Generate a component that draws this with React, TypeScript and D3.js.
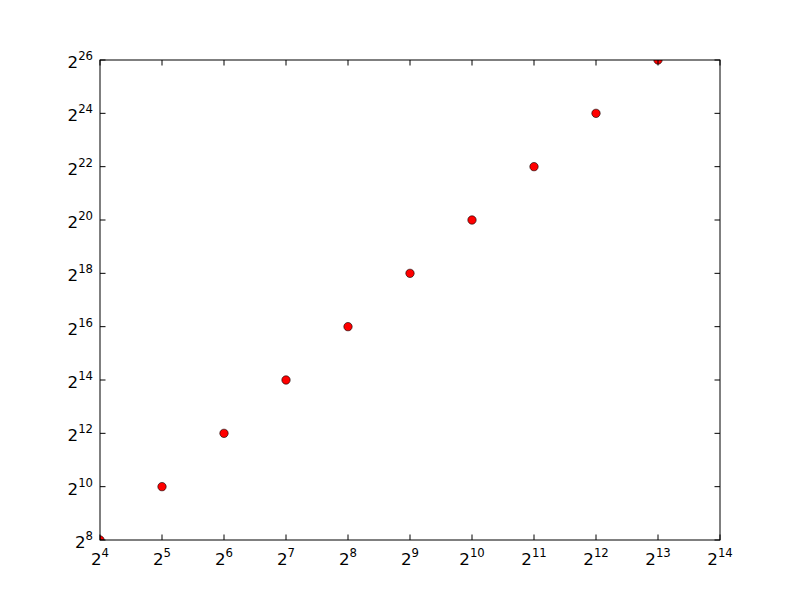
import React from 'react';
import * as d3 from 'd3';

// exponents of 2 for each point
const xExps = [4, 5, 6, 7, 8, 9, 10, 11, 12, 13];
const yExps = [8, 10, 12, 14, 16, 18, 20, 22, 24, 26];
const xTickExps = [4, 5, 6, 7, 8, 9, 10, 11, 12, 13, 14];
const yTickExps = [8, 10, 12, 14, 16, 18, 20, 22, 24, 26];

const W = 800;
const H = 600;
const margin = { top: 60, right: 80, bottom: 60, left: 100 };

const App: React.FC = () => {
  const iw = W - margin.left - margin.right;
  const ih = H - margin.top - margin.bottom;

  const x = d3.scaleLog().base(2).domain([2 ** 4, 2 ** 14]).range([0, iw]);
  const y = d3.scaleLog().base(2).domain([2 ** 8, 2 ** 26]).range([ih, 0]);

  const points = xExps.map((e, i) => ({ x: 2 ** e, y: 2 ** yExps[i] }));
  const tick = 5.5;
  const font = 'DejaVu Sans';

  return (
    <svg width={W} height={H} style={{ position: 'absolute', left: 0, top: 0, background: '#fff' }}>
      <rect width={W} height={H} fill="#fff" />
      <defs>
        <clipPath id="plotclip">
          <rect x={0} y={0} width={iw} height={ih} />
        </clipPath>
      </defs>
      <g transform={`translate(${margin.left},${margin.top})`}>
        <g clipPath="url(#plotclip)">
          {points.map((d, i) => (
            <circle key={i} cx={x(d.x)} cy={y(d.y)} r={4.2} fill="#ff0000" stroke="#000" strokeWidth={0.6} />
          ))}
        </g>
        <rect x={0} y={0} width={iw} height={ih} fill="none" stroke="#000" strokeWidth={1} />

        {xTickExps.map((e) => {
          const px = x(2 ** e);
          return (
            <g key={`x${e}`}>
              <line x1={px} x2={px} y1={ih} y2={ih - tick} stroke="#000" />
              <line x1={px} x2={px} y1={0} y2={tick} stroke="#000" />
              <text x={px} y={ih + 25} textAnchor="middle" fontFamily={font} fontSize={16.7} fill="#000">
                2<tspan fontSize={11.7} dy={-8}>{e}</tspan>
              </text>
            </g>
          );
        })}

        {yTickExps.map((e) => {
          const py = y(2 ** e);
          return (
            <g key={`y${e}`}>
              <line x1={0} x2={tick} y1={py} y2={py} stroke="#000" />
              <line x1={iw} x2={iw - tick} y1={py} y2={py} stroke="#000" />
              <text x={-7} y={py + 8} textAnchor="end" fontFamily={font} fontSize={16.7} fill="#000">
                2<tspan fontSize={11.7} dy={-8}>{e}</tspan>
              </text>
            </g>
          );
        })}
      </g>
    </svg>
  );
};

export default App;
